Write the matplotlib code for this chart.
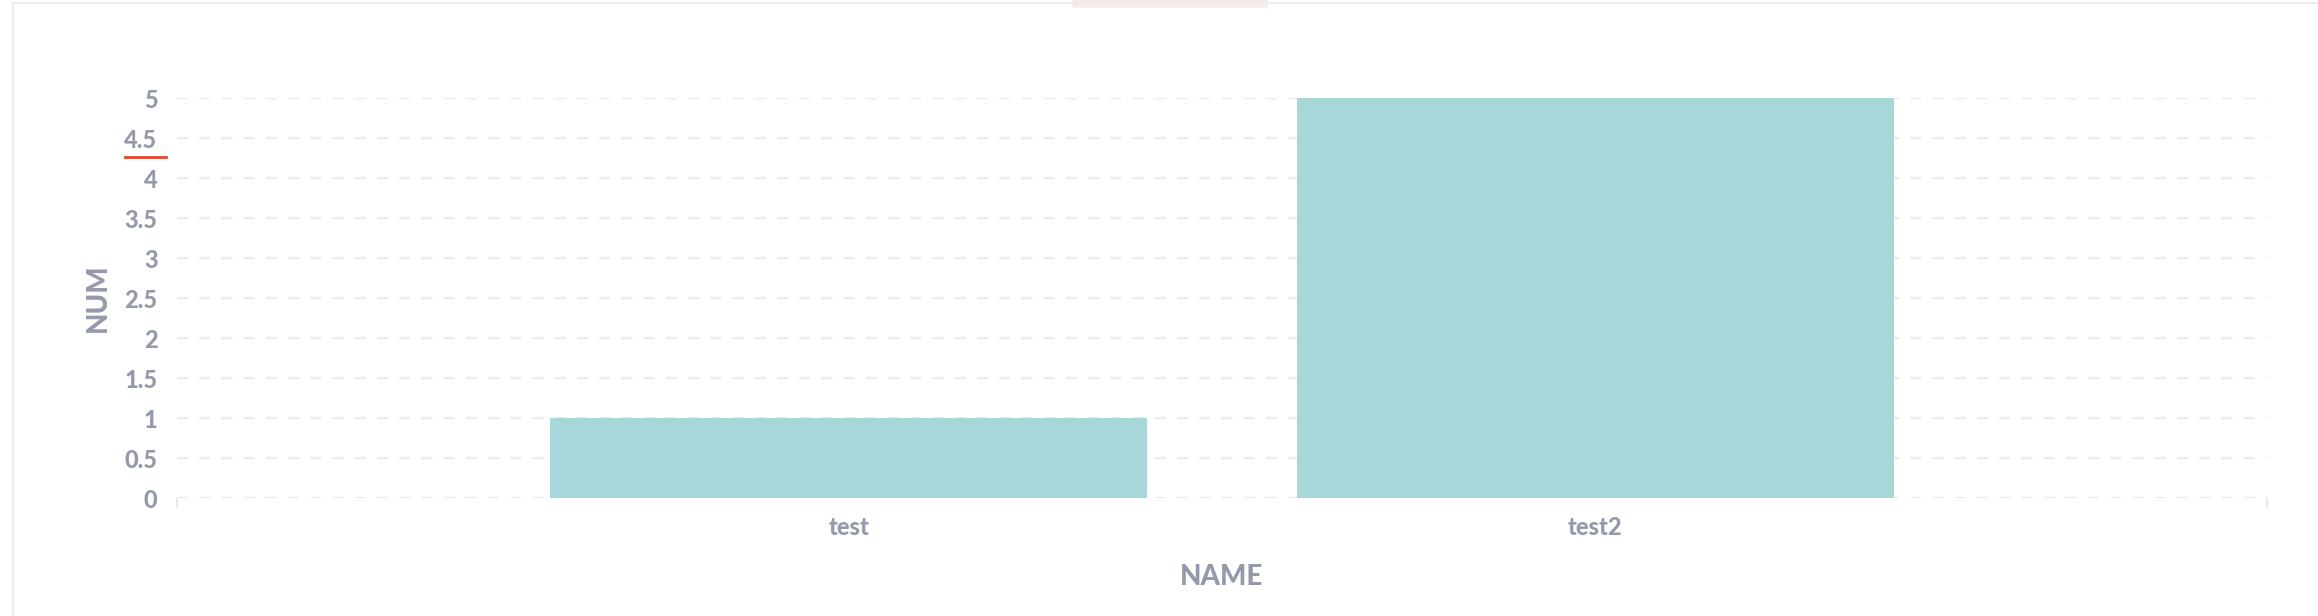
import matplotlib
matplotlib.use("Agg")
import matplotlib.pyplot as plt
from matplotlib.lines import Line2D
from matplotlib.patches import FancyBboxPatch
from matplotlib import font_manager

# data
names = ["test", "test2"]
nums = [1, 5]
y_ticks = [0, 0.5, 1, 1.5, 2, 2.5, 3, 3.5, 4, 4.5, 5]
y_tick_labels = ["0", "0.5", "1", "1.5", "2", "2.5", "3", "3.5", "4", "4.5", "5"]

W, H = 2318, 616
label_grey = "#949aab"
bar_colour = "#a7d7d9"
grid_grey = "#ebebef"

plt.rcParams["font.family"] = ["Lato", "DejaVu Sans"]
lato = sorted({(f.name, f.weight) for f in font_manager.fontManager.ttflist
               if f.name.startswith("Lato")}, key=lambda t: str(t[1]))
heavy = 900 if any(w in (800, 900, "heavy", "black") for _, w in lato) else "bold"

fig = plt.figure(figsize=(W / 100, H / 100), dpi=100)
ax = fig.add_axes([177 / W, 1 - 498 / H, (2267 - 177) / W, (498 - 98) / H])

x = list(range(len(names)))
ax.bar(x, nums, width=0.8, color=bar_colour, zorder=2)

ax.set_xlim(-0.9, len(names) - 0.1)
ax.set_ylim(0, 5)

ax.set_yticks(y_ticks)
ax.set_yticklabels(y_tick_labels)
ax.set_xticks(x)
ax.set_xticklabels(names)
ax.set_xticks([-0.9, len(names) - 0.1], minor=True)

ax.tick_params(axis="y", length=0, pad=14, labelsize=17, labelcolor=label_grey)
ax.tick_params(axis="x", which="major", length=0, pad=13, labelsize=17,
               labelcolor=label_grey)
ax.tick_params(axis="x", which="minor", length=7, width=1.5, color=grid_grey)
for lab in ax.get_xticklabels() + ax.get_yticklabels():
    lab.set_fontweight(heavy)

ax.yaxis.grid(True, linestyle=(0, (5, 5)), linewidth=1.6, color=grid_grey, zorder=1)
ax.set_axisbelow(True)
for s in ax.spines.values():
    s.set_visible(False)

ax.set_xlabel("NAME", fontsize=20, fontweight=heavy, color=label_grey, labelpad=18)
ax.set_ylabel("NUM", fontsize=20, fontweight=heavy, color=label_grey, labelpad=10)

# card frame around the chart
fig.add_artist(Line2D([13 / W, 13 / W], [0, 1 - 3 / H], transform=fig.transFigure,
                      color="#ececec", linewidth=1.6))
fig.add_artist(Line2D([13 / W, 1], [1 - 3 / H, 1 - 3 / H], transform=fig.transFigure,
                      color="#ececec", linewidth=1.6))
fig.add_artist(FancyBboxPatch((1072 / W, 1 - 8 / H), 196 / W, 12 / H,
                              boxstyle="round,pad=0,rounding_size=0.003",
                              transform=fig.transFigure, facecolor="#f5ebe8",
                              edgecolor="none"))
# red underline below the 4.5 label
fig.add_artist(Line2D([125 / W, 166 / W], [1 - 157 / H, 1 - 157 / H],
                      transform=fig.transFigure, color="#e8432b", linewidth=2))

fig.savefig("out.png", dpi=100)
